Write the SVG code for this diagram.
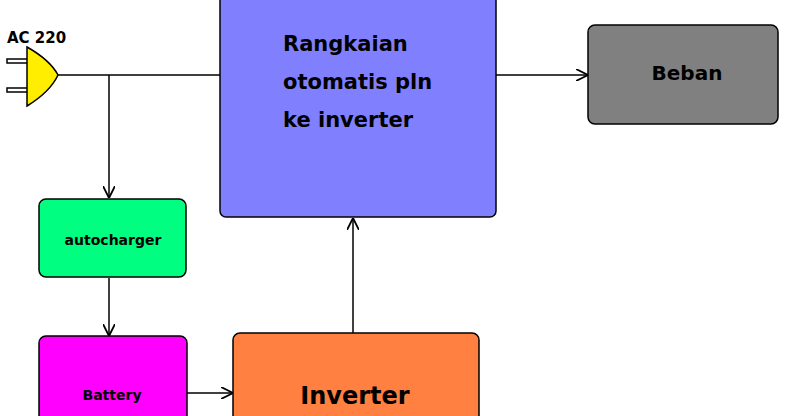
<svg xmlns="http://www.w3.org/2000/svg" width="792" height="416" viewBox="0 0 792 416">
<style>
.t{font-family:"DejaVu Sans",sans-serif;font-weight:bold;fill:#000}
.b{stroke:#000;stroke-width:1.5}
.c{stroke:#000;stroke-width:1.5;fill:none}
</style>
<defs><marker id="a" viewBox="0 0 10 10" refX="10" refY="5" markerWidth="8" markerHeight="8" orient="auto"><path d="M0,0L10,5L0,10" fill="none" stroke="#000" stroke-width="1.5"/></marker></defs>
<rect width="792" height="416" fill="#fff"/>
<g id="plug">
<text class="t" x="7" y="43" font-size="15">AC 220</text>
<rect x="7" y="59" width="21" height="4" fill="#fff" stroke="#000" stroke-width="1.5"/>
<rect x="7" y="88" width="21" height="4" fill="#fff" stroke="#000" stroke-width="1.5"/>
<path d="M27,47 Q50,60 58,75 Q50,92 27,106 Z" fill="#ffee00" stroke="#000" stroke-width="1.5"/>
</g>
<g id="connectors">
<path class="c" d="M58,75H220"/>
<path class="c" d="M109,75V198" marker-end="url(#a)"/>
<path class="c" d="M109,278V336" marker-end="url(#a)"/>
<path class="c" d="M187,393H233" marker-end="url(#a)"/>
<path class="c" d="M353,333V218" marker-end="url(#a)"/>
<path class="c" d="M496,75H588" marker-end="url(#a)"/>
</g>
<g id="otomatis"><rect class="b" x="220" y="-10" width="276" height="227" rx="6" fill="#8080ff"/>
<text class="t" x="283" y="51" font-size="21">Rangkaian</text>
<text class="t" x="283" y="89" font-size="21">otomatis pln</text>
<text class="t" x="283" y="127" font-size="21">ke inverter</text></g>
<g id="beban"><rect class="b" x="588" y="25" width="190" height="99" rx="7" fill="#808080"/>
<text class="t" x="687" y="80" font-size="20" text-anchor="middle">Beban</text></g>
<g id="autocharger"><rect class="b" x="39" y="199" width="147" height="78" rx="7" fill="#00ff80"/>
<text class="t" x="113" y="245" font-size="14" text-anchor="middle">autocharger</text></g>
<g id="battery"><rect class="b" x="39" y="336" width="148" height="100" rx="7" fill="#ff00ff"/>
<text class="t" x="112" y="400" font-size="14" text-anchor="middle">Battery</text></g>
<g id="inverter"><rect class="b" x="233" y="333" width="246" height="100" rx="7" fill="#ff8040"/>
<text class="t" x="355" y="404" font-size="24" text-anchor="middle">Inverter</text></g>
</svg>
